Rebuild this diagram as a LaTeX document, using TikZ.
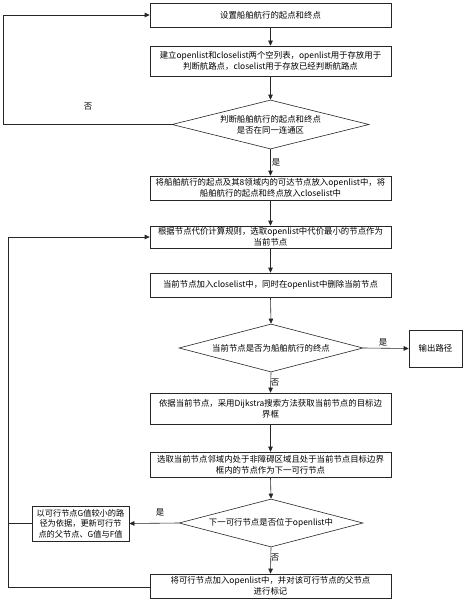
\documentclass[tikz,border=0pt]{standalone}
\usepackage{fontspec}
\setmainfont{Noto Sans CJK SC}
\usetikzlibrary{shapes.geometric,arrows.meta}
\begin{document}
\begin{tikzpicture}[x=1pt,y=-1pt,
  txt/.style={font=\fontsize{8.4}{11}\selectfont},
  box/.style={txt, draw=black!85, line width=0.6pt, minimum width=241pt, align=center, inner sep=1pt},
  dia/.style={txt, draw=black!85, line width=0.6pt, shape=diamond, aspect=4, inner sep=0pt, align=center},
  arr/.style={-{Triangle[length=5pt,width=4.5pt]}, line width=0.6pt, draw=black!85},
  ln/.style={line width=0.6pt, draw=black!85},
  lab/.style={txt, inner sep=0pt}]
\useasboundingbox (0,0) rectangle (474,602);
\fill[white] (0,0) rectangle (474,602);

\node[box, minimum height=24pt] (b1) at (270.5,15) {设置船舶航行的起点和终点};
\node[box, minimum height=30pt] (b2) at (270.5,61) {建立openlist和closelist两个空列表，openlist用于存放用于\\判断航路点，closelist用于存放已经判断航路点};
\node[dia, minimum width=197pt, minimum height=49pt] (d1) at (270.5,124.5) {判断船舶航行的起点和终点\\是否在同一连通区};
\node[box, minimum height=24pt] (b3) at (270.5,188) {将船舶航行的起点及其8领域内的可达节点放入openlist中，将\\船舶航行的起点和终点放入closelist中};
\node[box, minimum height=22pt] (b4) at (270.5,237) {根据节点代价计算规则，选取openlist中代价最小的节点作为\\当前节点};
\node[box, minimum height=24pt] (b5) at (270.5,285) {当前节点加入closelist中，同时在openlist中删除当前节点};
\node[dia, minimum width=184pt, minimum height=48pt] (d2) at (271,348) {当前节点是否为船舶航行的终点};
\node[box, minimum width=53pt, minimum height=37pt] (out) at (435.5,348.5) {输出路径};
\node[box, minimum height=31pt] (b6) at (270.5,408.5) {依据当前节点，采用Dijkstra搜索方法获取当前节点的目标边\\界框};
\node[box, minimum height=25pt] (b7) at (270.5,464.5) {选取当前节点邻域内处于非障碍区域且处于当前节点目标边界\\框内的节点作为下一可行节点};
\node[dia, minimum width=184pt, minimum height=48pt] (d3) at (271,523) {下一可行节点是否位于openlist中};
\node[box, minimum width=97pt, minimum height=35pt, font=\fontsize{8.2}{10.5}\selectfont] (lb) at (80.5,523.5) {以可行节点G值较小的路\\径为依据，更新可行节\\点的父节点、G值与F值};
\node[box, minimum height=24pt] (b8) at (270.5,586) {将可行节点加入openlist中，并对该可行节点的父节点\\进行标记};

\node[lab] (l1) at (88,107) {否};
\node[lab] (l2) at (276,162) {是};
\node[lab] (l3) at (383,342) {是};
\node[lab] (l4) at (275,383) {否};
\node[lab] (l5) at (160,512) {是};
\node[lab] (l6) at (275,558) {否};

\draw[arr] (b1.south) -- (b2.north);
\draw[arr] (b2.south) -- (d1.north);
\draw[arr] (d1.south) -- (b3.north);
\draw[arr] (b3.south) -- (b4.north);
\draw[arr] (b4.south) -- (b5.north);
\draw[arr] (b5.south) -- (d2.north);
\draw[arr] (d2.east) -- (out.west);
\draw[arr] (d2.south) -- (b6.north);
\draw[arr] (b6.south) -- (b7.north);
\draw[arr] (b7.south) -- (d3.north);
\draw[arr] (d3.west) -- (lb.east);
\draw[arr] (d3.south) -- (b8.north);

\coordinate (c1) at (3.5,124.5);
\draw[arr] (d1.west) -- (c1) |- (b1.west);
\coordinate (c2) at (8,587);
\draw[arr] (b8.west |- c2) -- (c2) |- (b4.west);
\draw[ln] (lb.west) -- (lb.west -| c2);
\end{tikzpicture}
\end{document}
